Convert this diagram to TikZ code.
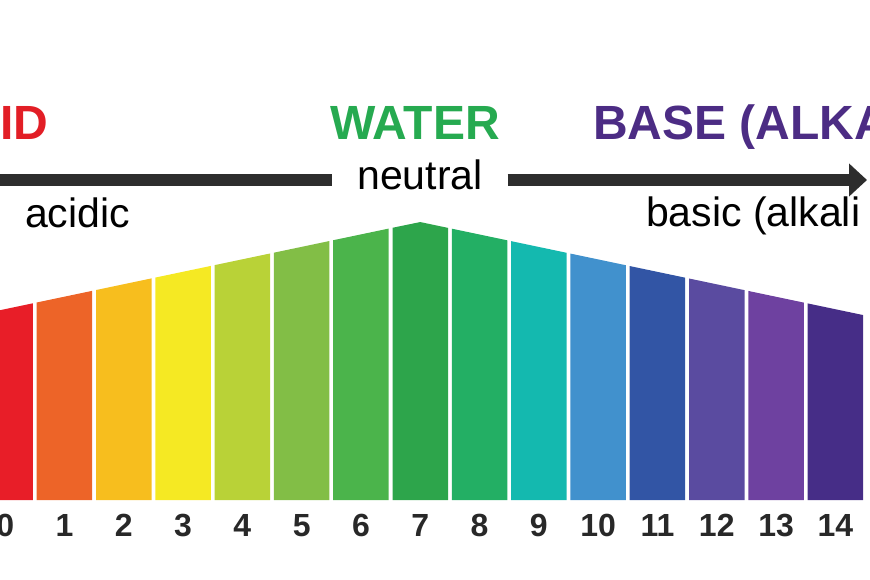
\documentclass[tikz,border=0pt]{standalone}
\usepackage{fontspec}
\setmainfont{Liberation Sans}
\usetikzlibrary{arrows.meta}
\definecolor{acidred}{RGB}{226,30,38}
\definecolor{watergreen}{RGB}{38,170,80}
\definecolor{basepurple}{RGB}{76,44,132}
\definecolor{arrowgray}{RGB}{45,45,45}
\definecolor{numgray}{RGB}{40,40,40}
\definecolor{barred}{RGB}{232,30,40}
\definecolor{barorange}{RGB}{237,100,40}
\definecolor{baramber}{RGB}{247,190,30}
\definecolor{baryellow}{RGB}{245,233,35}
\definecolor{barlime}{RGB}{185,210,55}
\definecolor{barleaf}{RGB}{130,190,70}
\definecolor{bargrass}{RGB}{75,180,75}
\definecolor{bargreen}{RGB}{45,165,75}
\definecolor{barjade}{RGB}{35,175,100}
\definecolor{barteal}{RGB}{20,185,175}
\definecolor{barsky}{RGB}{65,145,205}
\definecolor{barblue}{RGB}{50,85,165}
\definecolor{barindigo}{RGB}{90,75,160}
\definecolor{barviolet}{RGB}{110,65,160}
\definecolor{barpurple}{RGB}{70,45,135}

\begin{document}
\begin{tikzpicture}[
    x=1bp,
    y=-1bp,
    line cap=butt,
    every node/.style={inner sep=0pt, outer sep=0pt},
    title/.style={font=\bfseries\fontsize{48bp}{52bp}\selectfont},
    label/.style={font=\fontsize{41bp}{45bp}\selectfont, text=black},
    digit/.style={font=\bfseries\fontsize{32bp}{36bp}\selectfont, text=numgray, anchor=base},
    arrowline/.style={draw=arrowgray, line width=12bp}
]

\useasboundingbox (0,0) rectangle (870,580);
\clip (0,0) rectangle (870,580);

% Headings
\node[title, text=acidred, anchor=base west] (acid) at (0,140) {ID};
\node[title, text=watergreen, anchor=base] (water) at (415,140) {WATER};
\node[title, text=basepurple, anchor=base west] (base) at (593,140) {BASE (ALKA};

% Arrow with neutral in the middle
\node[label, anchor=base, inner xsep=25bp] (neutral) at (420,190) {neutral};
\coordinate (arrowL) at (-5,180);
\coordinate (arrowR) at (867,180);
\draw[arrowline] (arrowL) -- (arrowL -| neutral.west);
\draw[arrowline, -{Triangle[length=18bp,width=32bp]}]
      (arrowR -| neutral.east) -- (arrowR);

% Side labels
\node[label, anchor=base west] (acidic) at (25,228) {acidic};
\node[label, anchor=base west] (basic) at (646,227) {basic (alkali};

% Bars and pH numbers
\foreach \i/\c in {0/barred,1/barorange,2/baramber,3/baryellow,4/barlime,
                   5/barleaf,6/bargrass,7/bargreen,8/barjade,9/barteal,
                   10/barsky,11/barblue,12/barindigo,13/barviolet,14/barpurple}{
    \pgfmathsetmacro\xl{-22.6+59.3*\i}
    \pgfmathsetmacro\xc{\xl+27.75}
    \pgfmathsetmacro\xr{\xl+55.5}
    \fill[\c] (\xl,500) -- (\xl,{222+0.21*abs(\xl-420)})
              -- (\xc,{222+0.21*abs(\xc-420)})
              -- (\xr,{222+0.21*abs(\xr-420)}) -- (\xr,500) -- cycle;
    \node[digit] (n\i) at (\xc,536) {\i};
}

\end{tikzpicture}
\end{document}
